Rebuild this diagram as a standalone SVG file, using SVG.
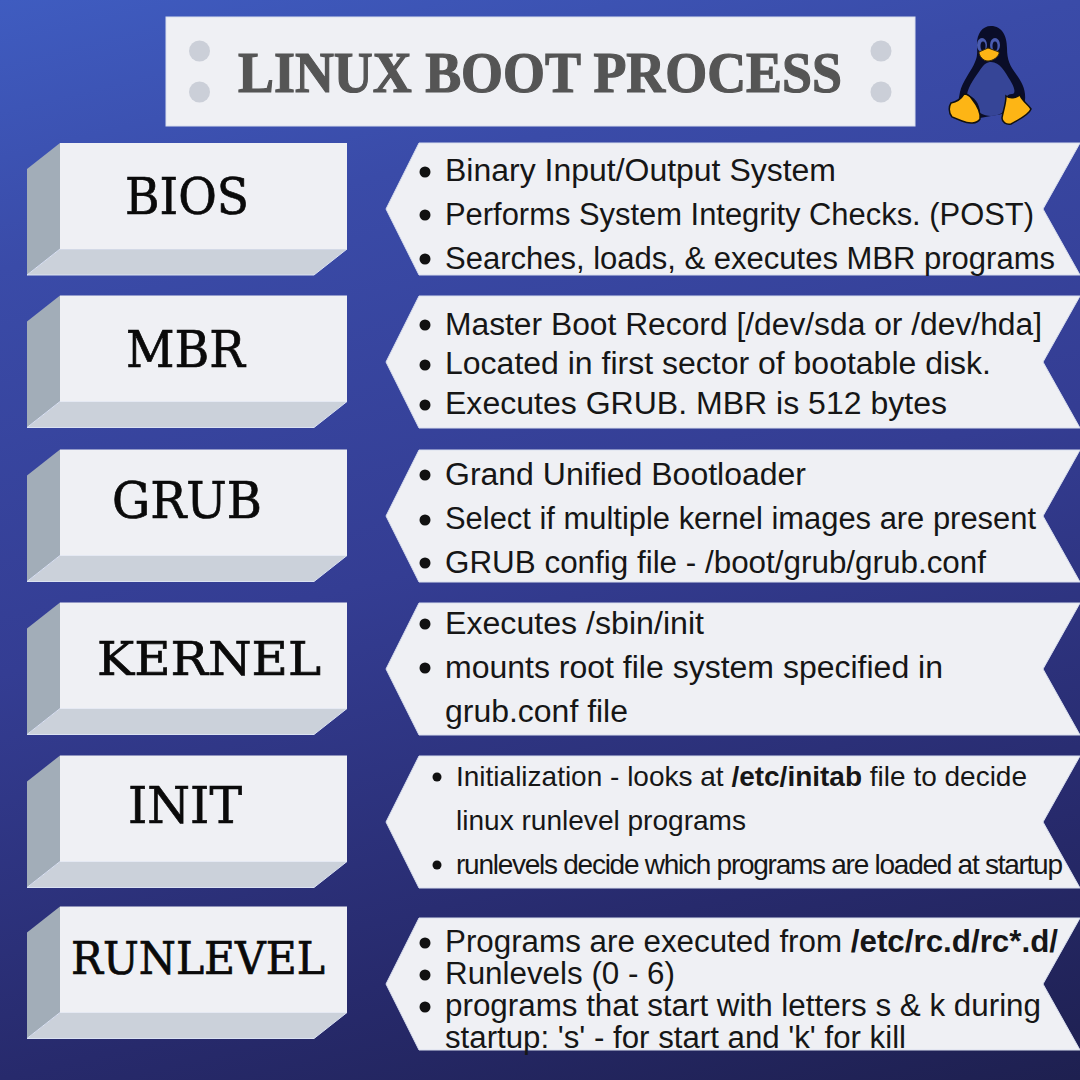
<svg xmlns="http://www.w3.org/2000/svg" width="1080" height="1080" viewBox="0 0 1080 1080">
<style>
.front{fill:#eff0f4}
.left{fill:#a2adb8}
.bottom{fill:#cbd1da;stroke:#dbe2f2;stroke-width:1}
.chev{fill:#eff0f4;stroke:#d9dfee;stroke-width:1}
.lbl{font-family:"DejaVu Serif","Liberation Serif",serif;font-size:50px;fill:#0a0a0a;stroke:#0a0a0a;stroke-width:0.7px}
.t{font-family:"Liberation Sans",Arial,sans-serif;font-size:31px;fill:#161616}
.s{font-size:28px}
.b{font-weight:bold}
.dot{fill:#cbcfd8}
.bu{fill:#111}
</style>
<defs>
<linearGradient id="bg" x1="0" y1="0" x2="0.294" y2="1.176">
<stop offset="0" stop-color="#3f5cc0"/><stop offset="0.2" stop-color="#3a4ba8"/><stop offset="0.5" stop-color="#343d93"/><stop offset="0.8" stop-color="#272a6c"/><stop offset="1" stop-color="#1e2050"/>
</linearGradient>
<g id="block">
<polygon class="left" points="27,169 60,143 60,249 27,275"/>
<polygon class="bottom" points="60,249 347,249 314,275 27,275"/>
<rect class="front" x="60" y="143" width="287" height="106"/>
</g>
<polygon id="chevron" class="chev" points="419,0 1080,0 1043,66 1080,132 419,132 386,66"/>
</defs>
<rect width="1080" height="1080" fill="url(#bg)"/>
<g id="title">
<rect x="166" y="17" width="749" height="109" fill="#eff0f4" stroke="#d9dfee"/>
<circle class="dot" cx="199.500" cy="51" r="10.500"/><circle class="dot" cx="199.500" cy="92" r="10.500"/>
<circle class="dot" cx="881" cy="51" r="10.500"/><circle class="dot" cx="881" cy="92" r="10.500"/>
<text x="238" y="92" font-family="'Liberation Serif',serif" font-weight="bold" font-size="58" fill="#555" stroke="#555" stroke-width="1.200" textLength="604" lengthAdjust="spacingAndGlyphs">LINUX BOOT PROCESS</text>
</g>
<g id="tux">
<path d="M991,26 C1002,26 1007,36 1007,48 C1007,60 1010,66 1016,74 C1022,82 1026,90 1025,100 L1023,112 L1004,118 L1002,114 L980,118 L975,118 L957,108 L960,92 C962,82 972,70 975,62 C978,56 977,50 977,44 C977,34 982,26 991,26Z" fill="#0a0d28"/>
<path d="M991,62 C1000,62 1005,72 1010,80 C1015,88 1016,94 1012,94 C1006,94 1004,100 1006,106 L1002,113 C995,117 987,117 980,113 C980,104 974,96 967,95 C968,86 976,76 980,70 C984,64 987,62 991,62Z" fill="#364597"/>
<ellipse cx="982" cy="45" rx="5" ry="7" fill="#4a5cb0"/><ellipse cx="995" cy="45" rx="5" ry="7" fill="#4a5cb0"/>
<ellipse cx="983" cy="46" rx="2.500" ry="4.500" fill="#0a0d28"/><ellipse cx="995" cy="46" rx="2.500" ry="4.500" fill="#0a0d28"/>
<path d="M979,52 L988,48 L999,52 C1000,56 993,61 988,61 C983,61 979,56 979,52Z" fill="#fdb515" stroke="#3a2c08"/>
<path d="M964,94 C967,94 970,96 972,99 C976,104 981,112 980,119 C977,124 969,124 962,121 L952,117 C948,112 949,106 951,103 C956,102 961,99 964,94Z" fill="#fdb515" stroke="#111" stroke-width="1.500"/>
<path d="M1006,96 C1010,99 1016,98 1020,95 C1022,101 1028,104 1031,109 C1029,115 1018,120 1011,124 C1006,125 1002,122 1002,118 C1003,111 1006,104 1006,96Z" fill="#fdb515" stroke="#111" stroke-width="1.500"/>
</g>
<g id="bios"><use href="#block"/><text class="lbl" x="125" y="214" textLength="124" lengthAdjust="spacingAndGlyphs">BIOS</text></g>
<g id="mbr"><use href="#block" y="152.500"/><text class="lbl" x="126" y="367" textLength="119" lengthAdjust="spacingAndGlyphs">MBR</text></g>
<g id="grub"><use href="#block" y="306.500"/><text class="lbl" x="112" y="518" textLength="150" lengthAdjust="spacingAndGlyphs">GRUB</text></g>
<g id="kernel"><use href="#block" y="459.500"/><text class="lbl" x="97" y="675" font-size="47" style="font-size:47px" textLength="224" lengthAdjust="spacingAndGlyphs">KERNEL</text></g>
<g id="init"><use href="#block" y="612.500"/><text class="lbl" x="128" y="823" textLength="114" lengthAdjust="spacingAndGlyphs">INIT</text></g>
<g id="runlevel"><use href="#block" y="763.500"/><text class="lbl" x="71" y="974" style="font-size:44px" textLength="254" lengthAdjust="spacingAndGlyphs">RUNLEVEL</text></g>

<g id="bios-info"><use href="#chevron" x="0" y="143"/>
<circle class="bu" cx="425" cy="172" r="5.500"/><circle class="bu" cx="425" cy="215" r="5.500"/><circle class="bu" cx="425" cy="259" r="5.500"/>
<text class="t" x="445" y="181" textLength="391" lengthAdjust="spacingAndGlyphs">Binary Input/Output System</text>
<text class="t" x="445" y="225" textLength="589" lengthAdjust="spacingAndGlyphs">Performs System Integrity Checks. (POST)</text>
<text class="t" x="445" y="269" textLength="610" lengthAdjust="spacingAndGlyphs">Searches, loads, &amp; executes MBR programs</text></g>

<g id="mbr-info"><use href="#chevron" y="296"/>
<circle class="bu" cx="425" cy="325" r="5.500"/><circle class="bu" cx="425" cy="365" r="5.500"/><circle class="bu" cx="425" cy="405" r="5.500"/>
<text class="t" x="445" y="335" textLength="597" lengthAdjust="spacingAndGlyphs">Master Boot Record [/dev/sda or /dev/hda]</text>
<text class="t" x="445" y="374" textLength="546" lengthAdjust="spacingAndGlyphs">Located in first sector of bootable disk.</text>
<text class="t" x="445" y="414" textLength="502" lengthAdjust="spacingAndGlyphs">Executes GRUB. MBR is 512 bytes</text></g>

<g id="grub-info"><use href="#chevron" y="450"/>
<circle class="bu" cx="425" cy="475" r="5.500"/><circle class="bu" cx="425" cy="520" r="5.500"/><circle class="bu" cx="425" cy="563" r="5.500"/>
<text class="t" x="445" y="485" textLength="361" lengthAdjust="spacingAndGlyphs">Grand Unified Bootloader</text>
<text class="t" x="445" y="529" textLength="591" lengthAdjust="spacingAndGlyphs">Select if multiple kernel images are present</text>
<text class="t" x="445" y="573" textLength="541" lengthAdjust="spacingAndGlyphs">GRUB config file - /boot/grub/grub.conf</text></g>

<g id="kernel-info"><use href="#chevron" y="603"/>
<circle class="bu" cx="425" cy="624" r="5.500"/><circle class="bu" cx="425" cy="668" r="5.500"/>
<text class="t" x="445" y="634" textLength="259" lengthAdjust="spacingAndGlyphs">Executes /sbin/init</text>
<text class="t" x="445" y="678" textLength="498" lengthAdjust="spacingAndGlyphs">mounts root file system specified in</text>
<text class="t" x="445" y="722" textLength="183" lengthAdjust="spacingAndGlyphs">grub.conf file</text></g>

<g id="init-info"><use href="#chevron" y="756"/>
<circle class="bu" cx="437" cy="777" r="4.500"/><circle class="bu" cx="437" cy="865" r="4.500"/>
<text class="t s" x="456" y="786" textLength="571" lengthAdjust="spacingAndGlyphs">Initialization - looks at <tspan class="b">/etc/initab</tspan> file to decide</text>
<text class="t s" x="456" y="830" textLength="290" lengthAdjust="spacingAndGlyphs">linux runlevel programs</text>
<text class="t s" x="456" y="874" textLength="607" lengthAdjust="spacing">runlevels decide which programs are loaded at startup</text></g>

<g id="runlevel-info"><use href="#chevron" y="918"/>
<circle class="bu" cx="425" cy="943" r="5.500"/><circle class="bu" cx="425" cy="975" r="5.500"/><circle class="bu" cx="425" cy="1007" r="5.500"/>
<text class="t" x="445" y="952" textLength="613" lengthAdjust="spacingAndGlyphs">Programs are executed from <tspan class="b">/etc/rc.d/rc*.d/</tspan></text>
<text class="t" x="445" y="984" textLength="230" lengthAdjust="spacingAndGlyphs">Runlevels (0 - 6)</text>
<text class="t" x="445" y="1016" textLength="596" lengthAdjust="spacingAndGlyphs">programs that start with letters s &amp; k during</text>
<text class="t" x="445" y="1048" textLength="461" lengthAdjust="spacingAndGlyphs">startup: 's' - for start and 'k' for kill</text></g>
</svg>
